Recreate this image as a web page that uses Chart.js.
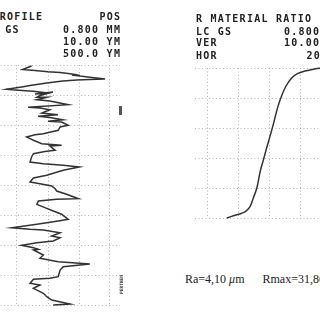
<!DOCTYPE html>
<html><head><meta charset="utf-8">
<script src="https://cdn.jsdelivr.net/npm/chart.js@4/dist/chart.umd.min.js"></script>
<style>
html,body{margin:0;padding:0;background:#fff;width:320px;height:320px;overflow:hidden;position:relative}
canvas{position:absolute}
.m{position:absolute;font-family:"DejaVu Sans Mono",monospace;font-weight:bold;font-size:10px;letter-spacing:1.25px;color:#222;white-space:pre;line-height:12px}
.s{position:absolute;font-family:"Liberation Serif","Times New Roman",serif;font-size:12px;color:#222;white-space:pre}
</style></head><body>
<canvas id="left" width="138" height="248" style="left:-14px;top:61px"></canvas>
<canvas id="right" width="153" height="158" style="left:191px;top:64px"></canvas>

<div class="m" style="left:-7.5px;top:11px">PROFILE</div>
<div class="m" style="left:-16.5px;top:23.5px">LC GS</div>
<div class="m" style="left:99.5px;top:11px">POS</div>
<div class="m" style="left:63px;top:23.5px">0.800 MM</div>
<div class="m" style="left:63px;top:35.5px">10.00 YM</div>
<div class="m" style="left:63px;top:47.5px">500.0 YM</div>

<div class="m" style="left:196px;top:13px">R MATERIAL RATIO</div>
<div class="m" style="left:196px;top:25.5px">LC GS</div>
<div class="m" style="left:196px;top:37px">VER</div>
<div class="m" style="left:196px;top:49.5px">HOR</div>
<div class="m" style="left:284px;top:25.5px">0.800 MM</div>
<div class="m" style="left:284px;top:37px">10.00 YM</div>
<div class="m" style="left:306.5px;top:49.5px">20 %</div>

<div style="position:absolute;left:119px;top:106px;width:3px;height:9px;background:#555"></div>
<div style="position:absolute;left:106px;top:282px;width:30px;height:5px;transform:rotate(-90deg);font-family:'DejaVu Sans Mono',monospace;font-size:4.5px;font-weight:bold;color:#444;line-height:5px;text-align:center">PERTHEN</div>

<div class="s" style="left:185px;top:272px">Ra=4,10 <i>μ</i>m</div>
<div class="s" style="left:262.5px;top:272px">Rmax=31,86 μm</div>

<script>
// Left: roughness profile (amplitude in µm vs. position in mm)
const profileUm = [4.7,1.8,5.8,10.0,13.9,16.5,18.7,20.3,17.7,23.5,28.4,23.5,19.3,14.8,9.6,4.2,2.0,-3.4,-0.6,5.2,10.0,5.8,11.6,7.4,6.4,9.6,6.4,10.6,16.5,3.6,7.4,10.6,8.0,13.2,6.8,10.6,14.8,10.0,14.4,16.5,13.9,13.3,8.5,5.8,3.1,4.2,5.3,8.0,14.4,10.6,12.3,9.0,5.3,4.7,4.2,8.5,14.9,20.1,14.9,9.6,5.3,4.2,7.4,11.2,12.3,12.8,16.0,19.8,12.8,6.9,6.4,9.0,11.7,14.4,16.5,13.3,6.4,-1.7,4.2,8.5,13.9,11.2,13.9,11.7,6.4,1.5,5.3,6.9,5.3,8.5,7.4,13.3,23.5,14.9,13.9,13.3,10.6,5.3,4.2,7.4,5.3,8.5,9.6,11.2,17.1,11.7];
const profileMm = [0.017,0.075,0.092,0.112,0.125,0.142,0.158,0.175,0.167,0.205,0.233,0.242,0.25,0.267,0.3,0.342,0.362,0.405,0.417,0.438,0.467,0.483,0.45,0.508,0.538,0.538,0.578,0.6,0.662,0.705,0.717,0.745,0.8,0.828,0.855,0.875,0.912,0.938,0.95,1.005,1.033,1.088,1.145,1.162,1.2,1.228,1.255,1.312,1.338,1.35,1.422,1.442,1.478,1.533,1.617,1.645,1.672,1.7,1.755,1.838,1.883,1.95,1.978,2.017,2.062,2.1,2.155,2.228,2.238,2.267,2.322,2.378,2.433,2.488,2.572,2.6,2.655,2.712,2.738,2.75,2.795,2.85,2.878,2.933,2.962,3.005,3.045,3.072,3.083,3.167,3.222,3.278,3.317,3.362,3.417,3.528,3.555,3.572,3.638,3.667,3.722,3.805,3.862,3.917,3.983,4.0];
const profileTicksUm = [0,10,20,30];
const profileTicksMm = [0,0.5,1,1.5,2,2.5,3,3.5,4];

// Right: material ratio curve (ratio in % vs. depth in µm)
const ratioPct = [12.6,17.9,22.2,24.9,27.5,29.6,31.8,33.9,36.0,38.3,40.3,42.4,45.4,47.9,50.5,54.1,58.1,62.6,67.1,72.2,78.6,85.0];
const depthUm = [50,49.1,48.4,47.7,46.2,43.3,40.1,34.7,30.7,26.3,22.7,18.7,12.7,9,6,3.3,1.8,1.0,0.5,0.1,0,0];
const ratioTicks = [0,20,40,60,80];
const depthTicks = [0,10,20,30,40,50];

const GRID = '#b4b4b4';
function axis(min, max, ticks, reverse, horiz){
  return {
    type:'linear', min, max, reverse:!!reverse,
    afterBuildTicks: s => { s.ticks = ticks.map(v => ({value:v})); },
    afterFit: s => { if (horiz) s.height = 0; else s.width = 0; },
    ticks:{display:false},
    grid:{color:GRID, lineWidth:1, drawTicks:false},
    border:{display:false, dash:[1,2.5]}
  };
}
function lineChart(id, xs, ys, xAxis, yAxis, w, tension){
  new Chart(document.getElementById(id), {
    type:'scatter',
    data:{datasets:[{
      data: xs.map((x,i)=>({x, y: ys[i]})),
      showLine:true, pointRadius:0, borderColor:'#333', borderWidth:w,
      tension: tension, clip:false
    }]},
    options:{
      responsive:false, animation:false, events:[],
      layout:{padding:4},
      plugins:{legend:{display:false}, tooltip:{enabled:false}},
      scales:{x:xAxis, y:yAxis}
    }
  });
}
// left plot area: px -10..120, py 65..305 ; 31 px per 10 µm, 60 px per mm
lineChart('left', profileUm, profileMm,
  axis((-10-17)/3.1, (120-17)/3.1, profileTicksUm, false, true),
  axis(0, 4, profileTicksMm, true, false), 1.5, 0);
// right plot area: px 195..340, py 68..218 ; 31.3 px per 20 %, 30 px per 10 µm
lineChart('right', ratioPct, depthUm,
  axis((195-207)/1.565, (340-207)/1.565, ratioTicks, false, true),
  axis(0, 50, depthTicks, true, false), 1.5, 0.4);
</script>
</body></html>
